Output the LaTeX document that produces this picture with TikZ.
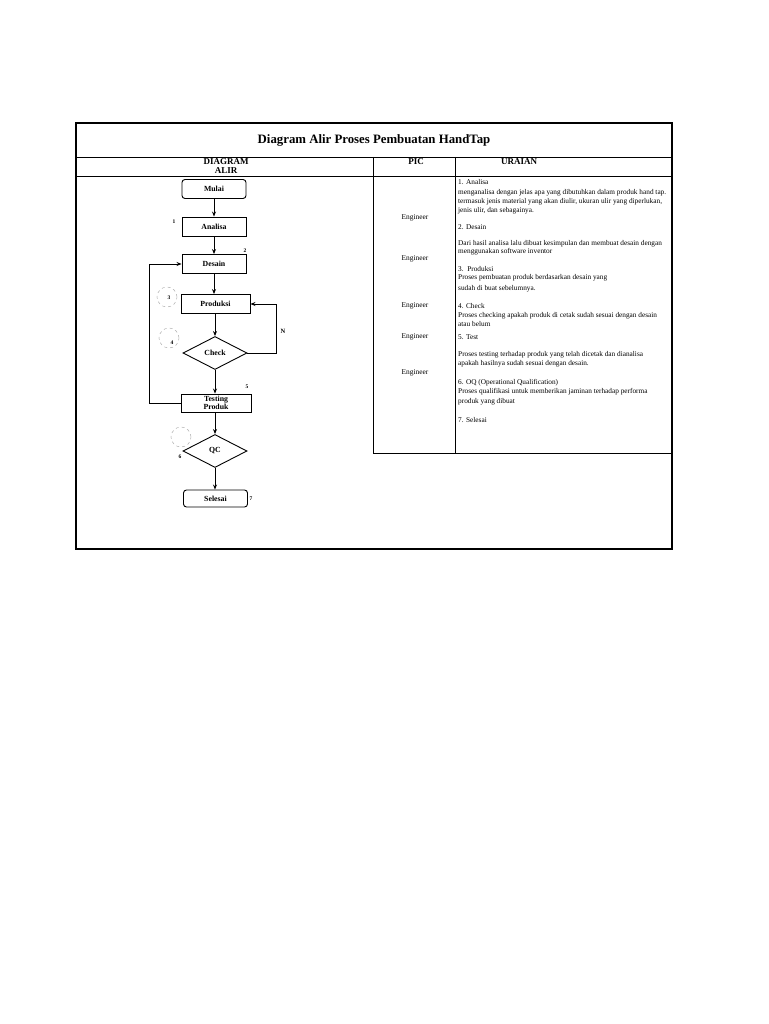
\documentclass[tikz,border=0pt]{standalone}
\usepackage{fontspec}
\setmainfont{Liberation Serif}
\usetikzlibrary{shapes.geometric,arrows.meta}
\begin{document}
\begin{tikzpicture}[x=1pt,y=-1pt,
  box/.style={draw,line width=0.9pt,minimum width=64pt,minimum height=19pt,inner sep=0pt,font=\fontsize{7.8}{8}\selectfont\bfseries,align=center},
  rbox/.style={box,rounded corners=3pt},
  dia/.style={draw,line width=0.9pt,diamond,aspect=1.95,minimum width=64pt,minimum height=33pt,inner sep=0pt,font=\fontsize{7.8}{8}\selectfont\bfseries},
  arr/.style={-{Stealth[length=5pt,width=4pt]},line width=0.8pt},
  num/.style={font=\fontsize{5.5}{6}\selectfont\bfseries,inner sep=0pt},
  circ/.style={draw=black!30,dashed,line width=0.5pt,circle,minimum size=20pt,inner sep=0pt},
  hdr/.style={font=\fontsize{9}{9}\selectfont\bfseries,align=center,inner sep=0pt},
  pic/.style={font=\fontsize{7.4}{8}\selectfont,inner sep=0pt},
  txt/.style={font=\fontsize{7.3}{8}\selectfont,anchor=west,inner sep=0pt}]
\useasboundingbox (0,0) rectangle (768,1024);
% table frame
\draw[line width=1.5pt] (76,123) rectangle (672,549);
\draw[line width=0.8pt] (76,157) -- (672,157);
\draw[line width=0.8pt] (76,176) -- (672,176);
\draw[line width=0.8pt] (373,157) -- (373,453) -- (672,453);
\draw[line width=0.8pt] (455,157) -- (455,453);
\node[font=\fontsize{12.8}{13}\selectfont\bfseries,inner sep=0pt] (title) at (374,140) {Diagram Alir Proses Pembuatan HandTap};
\node[hdr] (h1) at (226,166.5) {DIAGRAM\\ALIR};
\node[hdr] (h2) at (416,162) {PIC};
\node[hdr] (h3) at (519,162) {URAIAN};
% flowchart
\node[rbox] (mulai) at (214,189) {Mulai};
\node[box] (analisa) at (214,226.5) {Analisa};
\node[box] (desain) at (214,264) {Desain};
\node[box,minimum width=69pt] (produksi) at (215.5,304) {Produksi};
\node[dia] (check) at (215,353) {Check};
\node[box,minimum width=70pt,minimum height=18pt] (testing) at (216,403) {Testing\\Produk};
\node[dia] (qc) at (215,451) {QC};
\node[rbox,minimum height=17pt] (selesai) at (215.5,498.5) {Selesai};
\draw[arr] (mulai) -- (analisa);
\draw[arr] (analisa) -- (desain);
\draw[arr] (desain) -- (desain.south |- produksi.north);
\draw[arr] (produksi.south -| check.north) -- (check);
\draw[arr] (check.south) -- (check.south |- testing.north);
\draw[arr] (testing.south -| qc.north) -- (qc);
\draw[arr] (qc) -- (qc.south |- selesai.north);
\coordinate (nr) at (276,353);
\draw[arr] (check.east) -- (nr) |- (produksi.east);
\coordinate (lb) at (149,403);
\draw[arr] (testing.west) -- (lb) |- (desain.west);
\node[font=\fontsize{6.5}{6}\selectfont\bfseries,inner sep=0pt] (n) at (283,331) {N};
% numbers and circles
\node[num] (n1) at (174,222) {1};
\node[num] (n2) at (245,251) {2};
\node[circ] (c3) at (167,297) {};
\node[num] (n3) at (169,298) {3};
\node[circ] (c4) at (169,338) {};
\node[num] (n4) at (172,343) {4};
\node[num] (n5) at (247,387) {5};
\node[circ] (c6) at (181,437) {};
\node[num] (n6) at (180,457) {6};
\node[num] (n7) at (251,499) {7};
% PIC
\node[pic] (p1) at (415,218) {Engineer};
\node[pic] (p2) at (415,259) {Engineer};
\node[pic] (p3) at (415,306) {Engineer};
\node[pic] (p4) at (415,337) {Engineer};
\node[pic] (p5) at (415,373) {Engineer};
% URAIAN
\node[txt] (t1) at (458,182) {1. Analisa};
\node[txt] (t2) at (458,193) {menganalisa dengan jelas apa yang dibutuhkan dalam produk hand tap.};
\node[txt] (t3) at (458,202) {termasuk jenis material yang akan diulir, ukuran ulir yang diperlukan,};
\node[txt] (t4) at (458,211) {jenis ulir, dan sebagainya.};
\node[txt] (t5) at (458,227) {2. Desain};
\node[txt] (t6) at (458,244) {Dari hasil analisa lalu dibuat kesimpulan dan membuat desain dengan};
\node[txt] (t7) at (458,252) {menggunakan software inventor};
\node[txt] (t8) at (458,269) {3.\ \ Produksi};
\node[txt] (t9) at (458,278) {Proses pembuatan produk berdasarkan desain yang};
\node[txt] (t10) at (458,289) {sudah di buat sebelumnya.};
\node[txt] (t11) at (458,306) {4. Check};
\node[txt] (t12) at (458,316) {Proses checking apakah produk di cetak sudah sesuai dengan desain};
\node[txt] (t13) at (458,324) {atau belum};
\node[txt] (t14) at (458,337) {5. Test};
\node[txt] (t15) at (458,355) {Proses testing terhadap produk yang telah dicetak dan dianalisa};
\node[txt] (t16) at (458,364) {apakah hasilnya sudah sesuai dengan desain.};
\node[txt] (t17) at (458,383) {6. OQ (Operational Qualification)};
\node[txt] (t18) at (458,392) {Proses qualifikasi untuk memberikan jaminan terhadap performa};
\node[txt] (t19) at (458,402) {produk yang dibuat};
\node[txt] (t20) at (458,420) {7. Selesai};
\end{tikzpicture}
\end{document}
